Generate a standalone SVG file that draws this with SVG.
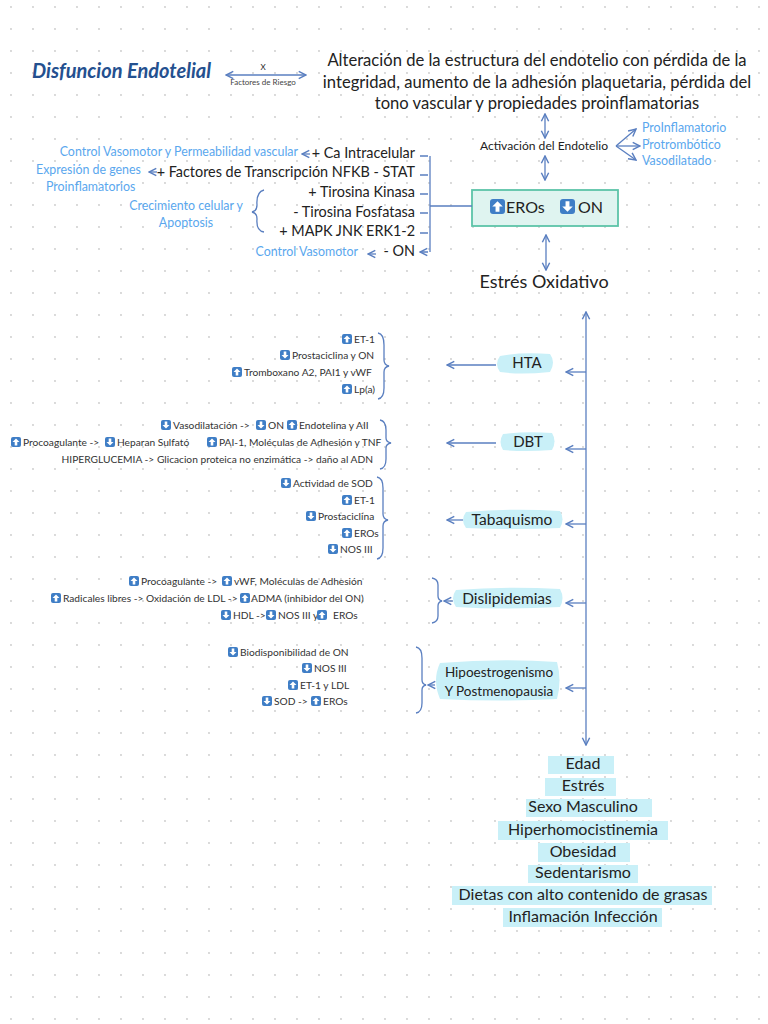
<svg xmlns="http://www.w3.org/2000/svg" width="768" height="1024" viewBox="0 0 768 1024">
<defs>
<pattern id="dots" width="22" height="22" patternUnits="userSpaceOnUse" x="10" y="6"><circle cx="1" cy="1" r="0.9" fill="#c9c9c9"/></pattern>
<marker id="ah" viewBox="0 0 10 10" refX="9" refY="5" markerWidth="7" markerHeight="7" orient="auto-start-reverse"><path d="M1,1 L9,5 L1,9" fill="none" stroke="#5a7fc0" stroke-width="1.6"/></marker>
<symbol id="up" viewBox="0 0 10 10"><rect width="10" height="10" rx="2" fill="#3f7ec6"/><path d="M5,1.5 L8.5,5 L6.3,5 L6.3,8.5 L3.7,8.5 L3.7,5 L1.5,5Z" fill="#fff"/></symbol>
<symbol id="dn" viewBox="0 0 10 10"><rect width="10" height="10" rx="2" fill="#3f7ec6"/><path d="M5,8.5 L8.5,5 L6.3,5 L6.3,1.5 L3.7,1.5 L3.7,5 L1.5,5Z" fill="#fff"/></symbol>
</defs>
<style>
text{font-family:Lato,"Open Sans",sans-serif;fill:#222}
.s{font-size:10.2px;fill:#333}
.b{fill:#5aa7ee;font-size:12.4px}
.c{font-size:16px;text-anchor:middle}
.m{font-size:14.4px;text-anchor:end}
.l{fill:none;stroke:#5a7fc0;stroke-width:1.3}
.hl{fill:#c9f0f8}
</style>
<rect width="768" height="1024" fill="#fff"/>
<rect width="768" height="1024" fill="url(#dots)"/>

<g id="title"><text x="32" y="78" font-family="'DejaVu Serif',serif" font-weight="bold" font-style="italic" font-size="20" style="fill:#24508f">Disfuncion Endotelial</text></g>
<g id="factores"><text x="263" y="70" font-size="8" text-anchor="middle">X</text><text x="263" y="85" font-size="8" text-anchor="middle" style="fill:#444">Factores de Riesgo</text></g>
<g id="alteracion">
<text x="537" y="66" text-anchor="middle" font-size="16.6">Alteración de la estructura del endotelio con pérdida de la</text>
<text x="537" y="88" text-anchor="middle" font-size="16.6">integridad, aumento de la adhesión plaquetaria, pérdida del</text>
<text x="537" y="109" text-anchor="middle" font-size="16.6">tono vascular y propiedades proinflamatorias</text>
</g>
<g id="activacion"><text x="544" y="150" font-size="12.1" text-anchor="middle">Activación del Endotelio</text></g>
<g id="efectos"><text class="b" x="642" y="132">ProInflamatorio</text><text class="b" x="642" y="149">Protrombótico</text><text class="b" x="642" y="165">Vasodilatado</text></g>
<g id="eros"><rect x="472" y="190" width="146" height="36" fill="#dff4f0" stroke="#5cc4a8" stroke-width="1.8"/>
<use href="#up" x="490" y="199" width="15" height="15"/><text x="506" y="213" font-size="16">EROs</text>
<use href="#dn" x="560" y="199" width="15" height="15"/><text x="578" y="213" font-size="16">ON</text></g>
<g id="estres"><text x="544" y="288" font-size="18" text-anchor="middle">Estrés Oxidativo</text></g>

<g id="mecanismos">
<text class="m" x="415" y="158">+ Ca Intracelular</text>
<text class="m" x="415" y="177">+ Factores  de Transcripción NFKB - STAT</text>
<text class="m" x="415" y="197">+ Tirosina Kinasa</text>
<text class="m" x="415" y="217">- Tirosina Fosfatasa</text>
<text class="m" x="415" y="236">+ MAPK JNK ERK1-2</text>
<text class="m" x="415" y="256">- ON</text>
</g>
<g id="funciones">
<text class="b" x="298" y="156" text-anchor="end">Control Vasomotor y Permeabilidad vascular</text>
<text class="b" x="36" y="174">Expresión de genes</text>
<text class="b" x="46" y="191">Proinflamatorios</text>
<text class="b" x="243" y="210" text-anchor="end">Crecimiento celular y</text>
<text class="b" x="186" y="227" text-anchor="middle">Apoptosis</text>
<text class="b" x="358" y="256" text-anchor="end">Control Vasomotor</text>
</g>

<g id="hta"><path class="hl" d="M500,356 Q520,352 550,354 Q556,362 550,372 Q520,375 500,372 Q494,364 500,356Z"/><text x="527" y="368" font-size="15" text-anchor="middle">HTA</text></g>
<g id="hta-items">
<use href="#up" x="342" y="334" width="10" height="10"/><text class="s" x="354" y="343">ET-1</text>
<use href="#dn" x="280" y="350" width="10" height="10"/><text class="s" x="292" y="359">Prostaciclina y ON</text>
<use href="#up" x="232" y="367" width="10" height="10"/><text class="s" x="244" y="376">Tromboxano A2, PAI1 y vWF</text>
<use href="#up" x="342" y="384" width="10" height="10"/><text class="s" x="354" y="393">Lp(a)</text>
</g>
<g id="dbt"><path class="hl" d="M503,434 Q525,431 552,433 Q557,441 552,450 Q525,452 503,450 Q498,442 503,434Z"/><text x="528" y="447" font-size="15" text-anchor="middle">DBT</text></g>
<g id="dbt-items">
<use href="#dn" x="161" y="420" width="10" height="10"/><text class="s" x="173" y="429">Vasodilatación -&gt;</text>
<use href="#dn" x="256" y="420" width="10" height="10"/><text class="s" x="268" y="429">ON</text>
<use href="#up" x="287" y="420" width="10" height="10"/><text class="s" x="299" y="429">Endotelina y AII</text>
<use href="#up" x="11" y="437" width="10" height="10"/><text class="s" x="23" y="446">Procoagulante -&gt;</text>
<use href="#dn" x="105" y="437" width="10" height="10"/><text class="s" x="117" y="446">Heparan Sulfató</text>
<use href="#up" x="207" y="437" width="10" height="10"/><text class="s" x="219" y="446">PAI-1, Moléculas de Adhesión y TNF</text>
<text class="s" x="373" y="463" text-anchor="end">HIPERGLUCEMIA -&gt; Glicacion proteica no enzimática -&gt; daño al ADN</text>
</g>
<g id="tabaquismo"><path class="hl" d="M466,512 Q512,508 560,511 Q565,519 560,528 Q512,530 466,528 Q460,520 466,512Z"/><text x="512" y="525" font-size="15.5" text-anchor="middle">Tabaquismo</text></g>
<g id="tab-items">
<use href="#dn" x="281" y="478" width="10" height="10"/><text class="s" x="293" y="487">Actividad de SOD</text>
<use href="#up" x="342" y="495" width="10" height="10"/><text class="s" x="354" y="504">ET-1</text>
<use href="#dn" x="306" y="511" width="10" height="10"/><text class="s" x="318" y="520">Prostaciclina</text>
<use href="#up" x="342" y="528" width="10" height="10"/><text class="s" x="354" y="537">EROs</text>
<use href="#dn" x="328" y="544" width="10" height="10"/><text class="s" x="340" y="553">NOS III</text>
</g>
<g id="dislipidemias"><path class="hl" d="M456,590 Q506,586 560,589 Q565,598 560,607 Q506,610 456,607 Q450,598 456,590Z"/><text x="507" y="604" font-size="15.5" text-anchor="middle">Dislipidemias</text></g>
<g id="dis-items">
<use href="#up" x="129" y="576" width="10" height="10"/><text class="s" x="141" y="585">Procoagulante -&gt;</text>
<use href="#up" x="222" y="576" width="10" height="10"/><text class="s" x="234" y="585">vWF,  Moléculas de Adhesión</text>
<use href="#up" x="51" y="593" width="10" height="10"/><text class="s" x="63" y="602">Radicales libres -&gt; Oxidación de LDL -&gt;</text>
<use href="#up" x="240" y="593" width="10" height="10"/><text class="s" x="251" y="602">ADMA (inhibidor del ON)</text>
<use href="#dn" x="221" y="610" width="10" height="10"/><text class="s" x="233" y="619">HDL -&gt;</text>
<use href="#dn" x="266" y="610" width="10" height="10"/><text class="s" x="278" y="619">NOS III y</text>
<use href="#up" x="317" y="610" width="10" height="10"/><text class="s" x="333" y="619">EROs</text>
</g>
<g id="hipo"><path class="hl" d="M440,663 Q500,658 557,662 Q562,680 557,699 Q500,702 440,699 Q432,680 440,663Z"/><text x="499" y="677" font-size="13.5" text-anchor="middle">Hipoestrogenismo</text><text x="499" y="696" font-size="13.5" text-anchor="middle">Y Postmenopausia</text></g>
<g id="hipo-items">
<use href="#dn" x="228" y="647" width="10" height="10"/><text class="s" x="240" y="656">Biodisponibilidad de ON</text>
<use href="#dn" x="302" y="663" width="10" height="10"/><text class="s" x="314" y="672">NOS III</text>
<use href="#up" x="288" y="680" width="10" height="10"/><text class="s" x="300" y="689">ET-1 y LDL</text>
<use href="#dn" x="262" y="696" width="10" height="10"/><text class="s" x="274" y="705">SOD -&gt;</text>
<use href="#up" x="311" y="696" width="10" height="10"/><text class="s" x="323" y="705">EROs</text>
</g>

<g id="factores-lista">
<path class="hl" d="M548,756 H614 V774 H548Z"/><text class="c" x="583" y="769">Edad</text>
<path class="hl" d="M545,778 H616 V796 H545Z"/><text class="c" x="583" y="791">Estrés</text>
<path class="hl" d="M526,799 H652 V817 H526Z"/><text class="c" x="583" y="812">Sexo Masculino</text>
<path class="hl" d="M498,821 H668 V840 H498Z"/><text class="c" x="583" y="835">Hiperhomocistinemia</text>
<path class="hl" d="M538,843 H630 V862 H538Z"/><text class="c" x="583" y="857">Obesidad</text>
<path class="hl" d="M528,865 H638 V883 H528Z"/><text class="c" x="583" y="878">Sedentarismo</text>
<path class="hl" d="M452,886 H712 V905 H452Z"/><text class="c" x="583" y="900">Dietas con alto contenido de grasas</text>
<path class="hl" d="M503,908 H662 V927 H503Z"/><text class="c" x="583" y="922">Inflamación Infección</text>
</g>

<g id="connectors">
<path class="l" d="M226,75 H306" marker-start="url(#ah)" marker-end="url(#ah)"/>
<path class="l" d="M545,114 V138" marker-start="url(#ah)" marker-end="url(#ah)"/>
<path class="l" d="M545,156 V180" marker-start="url(#ah)" marker-end="url(#ah)"/>
<path class="l" d="M546,235 V270" marker-start="url(#ah)" marker-end="url(#ah)"/>
<path class="l" d="M616,146 L636,129" marker-end="url(#ah)"/>
<path class="l" d="M616,146 L640,146" marker-end="url(#ah)"/>
<path class="l" d="M616,146 L636,160" marker-end="url(#ah)"/>
<path class="l" d="M430,156 V252 M430,206 H472"/>
<path class="l" d="M428,156 H420 M428,175 H420 M428,194 H420 M428,213 H420 M428,233 H420 M428,252 H420" marker-end="url(#ah)"/>
<path class="l" d="M310,154 H302" marker-end="url(#ah)"/>
<path class="l" d="M157,172 H149" marker-end="url(#ah)"/>
<path class="l" d="M376,254 H368" marker-end="url(#ah)"/>
<path class="l" d="M264,190 Q256,192 257,205 Q257,211 252,212 Q257,213 257,219 Q256,231 264,232"/>
<path class="l" d="M586,312 V745" marker-start="url(#ah)" marker-end="url(#ah)"/>
<path class="l" d="M586,372 H566" marker-end="url(#ah)"/>
<path class="l" d="M586,449 H566" marker-end="url(#ah)"/>
<path class="l" d="M586,524 H566" marker-end="url(#ah)"/>
<path class="l" d="M586,603 H566" marker-end="url(#ah)"/>
<path class="l" d="M586,688 H566" marker-end="url(#ah)"/>
<path class="l" d="M496,365 H447" marker-end="url(#ah)"/>
<path class="l" d="M496,443 H447" marker-end="url(#ah)"/>
<path class="l" d="M463,520 H447" marker-end="url(#ah)"/>
<path class="l" d="M453,601 H444" marker-end="url(#ah)"/>
<path class="l" d="M435,685 H428" marker-end="url(#ah)"/>
<path class="l" d="M378,333 Q384,334 384,345 L384,360 Q384,365 389,366 Q384,367 384,372 L384,388 Q384,398 378,399"/>
<path class="l" d="M380,420 Q386,421 386,430 L386,438 Q386,442 391,443 Q386,444 386,448 L386,459 Q386,468 380,469"/>
<path class="l" d="M377,477 Q383,478 383,488 L383,514 Q383,519 388,520 Q383,521 383,526 L383,548 Q383,558 377,559"/>
<path class="l" d="M432,578 Q438,579 438,585 L438,596 Q438,600 442,601 Q438,602 438,606 L438,616 Q438,622 432,623"/>
<path class="l" d="M416,647 Q422,648 422,658 L422,680 Q422,684 426,685 Q422,686 422,690 L422,703 Q422,712 416,713"/>
</g>
</svg>
